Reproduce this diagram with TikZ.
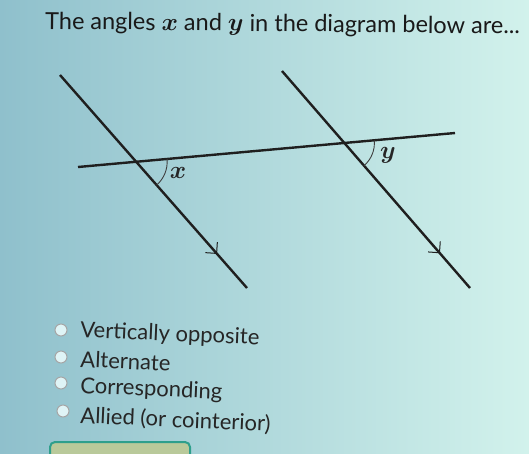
\documentclass[tikz,border=0pt]{standalone}
\usepackage{amsmath}
\usepackage{fontspec}
\setmainfont{Lato}
\usepackage{xcolor}
\usetikzlibrary{angles,decorations.markings,arrows.meta}

\definecolor{screenL}{HTML}{8FC0CC}
\definecolor{screenM}{HTML}{C0EAEE}
\definecolor{screenR}{HTML}{D2F2EC}
\definecolor{btnEdge}{HTML}{2E9F8C}
\definecolor{btnFill}{HTML}{B9C99A}

\begin{document}
\begin{tikzpicture}[x=1pt,y=-1pt,
  line/.style={line width=2.4pt,color=black!88},
  parline/.style={line,postaction={decorate},
    decoration={markings,mark=at position 0.84 with {\arrow{Straight Barb[length=8pt,width=16pt,line width=1pt]}}}},
  radio/.style={circle,draw=gray!70,fill=white!50!screenM,line width=1pt,minimum size=12pt,inner sep=0pt},
  choice/.style={anchor=base west,rotate=-2.5,inner sep=0pt,font=\fontsize{22}{26}\selectfont,text=black!85},
  lbl/.style={font=\fontsize{30}{32}\selectfont,text=black!85}]
        \useasboundingbox (0,0) rectangle (529,453);
        \clip (0,0) rectangle (529,453);
        \shade[left color=screenL,middle color=screenM,right color=screenR] (0,0) rectangle (529,453);
        % button at the bottom
        \draw[btnEdge,fill=btnFill,line width=2pt,rounded corners=5pt] (50,442) rectangle (190,480);
        % title
        \node[anchor=base west,rotate=-0.6,inner sep=0pt,font=\fontsize{23.5}{27}\selectfont,text=black!90] (title) at (45,29)
          {The angles $\boldsymbol{x}$ and $\boldsymbol{y}$ in the diagram below are...};
        % lines
        \coordinate (L1) at (60,75);
        \coordinate (L2) at (247,288);
        \coordinate (R1) at (282,71);
        \coordinate (R2) at (470,288);
        \coordinate (T1) at (78,167);
        \coordinate (T2) at (455,133);
        \coordinate (IL) at (intersection of L1--L2 and T1--T2);
        \coordinate (IR) at (intersection of R1--R2 and T1--T2);
        \draw[line] (T1) -- (T2);
        \draw[parline] (L1) -- (L2);
        \draw[parline] (R1) -- (R2);
        % angles
        \pic[draw=black!75,line width=0.9pt,angle radius=31pt] {angle=L2--IL--T2};
        \pic[draw=black!75,line width=0.9pt,angle radius=30pt] {angle=R2--IR--T2};
        \node[lbl] (labx) at (178,173) {$\boldsymbol{x}$};
        \node[lbl] (laby) at (388,155) {$\boldsymbol{y}$};
        % choices
        \node[radio] (r1) at (61,330) {};
        \node[radio] (r2) at (61,357) {};
        \node[radio] (r3) at (61,383) {};
        \node[radio] (r4) at (63,411) {};
        \node[choice] (c1) at (80,337) {Vertically opposite};
        \node[choice] (c2) at (80,367) {Alternate};
        \node[choice] (c3) at (80,393) {Corresponding};
        \node[choice] (c4) at (80,423) {Allied (or cointerior)};
\end{tikzpicture}
\end{document}
